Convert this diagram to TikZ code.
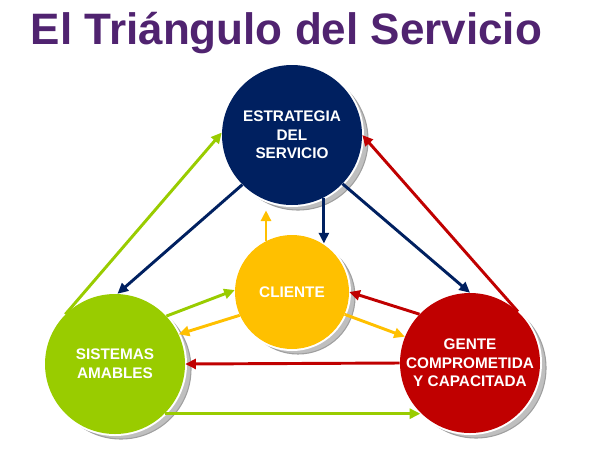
\documentclass[tikz,border=0pt]{standalone}
\usepackage{fontspec}
\setmainfont{Liberation Sans}
\usetikzlibrary{arrows.meta}
\usetikzlibrary{calc}

\definecolor{titulo}{RGB}{80,35,112}
\definecolor{navy}{RGB}{0,32,96}
\definecolor{verde}{RGB}{153,204,0}
\definecolor{amarillo}{RGB}{255,192,0}
\definecolor{rojo}{RGB}{192,0,0}

\tikzset{
    circ/.style={circle, inner sep=0pt, text=white, align=center,
        font=\bfseries\fontsize{11.5}{14}\selectfont},
    flecha/.style={line width=2.2pt, -{Triangle[length=8pt,width=7.5pt]}}
}

\begin{document}
\begin{tikzpicture}[x=0.75pt,y=-0.75pt]
        \useasboundingbox (0,0) rectangle (591,450);

        \node[font=\bfseries\fontsize{33}{36}\selectfont, text=titulo, anchor=base] (tit) at (286.5,44) {El Triángulo del Servicio};

        % sombras
        \foreach \cx/\cy/\r in {292/135/70, 292/292/57, 115/364/70, 470/363/70} {
            \filldraw[fill=gray!50, draw=gray!75, line width=0.8pt] (\cx+6,\cy+5) circle (\r);
            \fill[white] (\cx,\cy) circle (\r+2);
        }

        \node[circ, fill=navy, minimum size=105pt] (est) at (292,135) {ESTRATEGIA\\DEL\\SERVICIO};
        \node[circ, fill=amarillo, minimum size=85.5pt] (cli) at (292,292) {CLIENTE};
        \node[circ, fill=verde, minimum size=105pt] (sis) at (115,364) {SISTEMAS\\AMABLES};
        \node[circ, fill=rojo, minimum size=105pt] (gen) at (470,363) {GENTE\\COMPROMETIDA\\Y CAPACITADA};

        \draw[flecha, verde] (sis.135) -- (est.178);
        \draw[flecha, navy] (est.225) -- (sis.88);
        \draw[flecha, navy] (est.297) -- (est.297 |- cli.58);
        \draw[flecha, navy] (est.316) -- (gen.north);
        \draw[flecha, rojo] (gen.47) -- (est.0);
        \draw[flecha, amarillo, shorten >=7pt] (cli.117) -- (cli.117 |- est.250);

        \draw[flecha, verde] (sis.43) -- (cli.178);
        \draw[flecha, amarillo] (cli.204) -- (sis.25);
        \draw[flecha, rojo] (gen.136) -- (cli.0);
        \draw[flecha, amarillo] (cli.337) -- (gen.158);
        \draw[flecha, rojo] (gen.west) -- (sis.east);
        \draw[flecha, verde] (sis.315) -- (sis.315 -| gen.225);

\end{tikzpicture}
\end{document}
